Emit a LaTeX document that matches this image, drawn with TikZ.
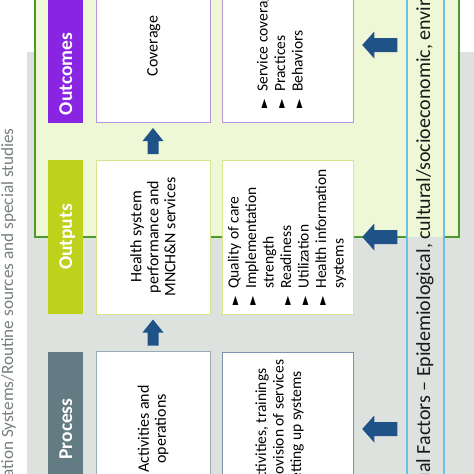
\documentclass[tikz,border=0pt]{standalone}
\usepackage{fontspec}
\setmainfont{Carlito}
\newfontfamily\symfont{DejaVu Sans}
\usetikzlibrary{calc}
\definecolor{lgreen}{HTML}{EFF8D6}
\definecolor{bggray}{HTML}{DDE2DF}
\definecolor{ggreen}{HTML}{4A9B2B}
\definecolor{bandblue}{HTML}{6EC1E4}
\definecolor{arrowblue}{HTML}{1F5286}
\definecolor{purp}{HTML}{8A24E3}
\definecolor{limec}{HTML}{BED21B}
\definecolor{slatec}{HTML}{637B82}
\definecolor{purpbd}{HTML}{B596D6}
\definecolor{limebd}{HTML}{D9E58C}
\definecolor{slatebd}{HTML}{9AABB3}
\definecolor{bluebd}{HTML}{7C93AE}
\definecolor{sidegray}{HTML}{777F80}
\newcommand\bul{{\symfont\fontsize{12}{12}\selectfont ►}}
\begin{document}
\begin{tikzpicture}[x=1pt,y=-1pt,
  box/.style={draw, line width=1pt, fill=white, inner sep=0pt, minimum width=114pt, minimum height=154pt},
  boxb/.style={draw, line width=1pt, fill=white, inner sep=0pt, minimum width=131pt, minimum height=154pt},
  header/.style={inner sep=0pt, minimum width=35pt, minimum height=154pt},
  hdrtext/.style={rotate=90, inner sep=0pt, text=white, font=\bfseries\fontsize{19.5}{20}\selectfont},
  rtext/.style={rotate=90, inner sep=0pt, align=center, font=\fontsize{16}{17}\selectfont},
  blist/.style={rotate=90, inner sep=0pt, anchor=west, font=\fontsize{15.5}{17.5}\selectfont},
  uparr/.pic={\fill[arrowblue] (0,-13) -- (10.5,0) -- (5.5,0) -- (5.5,13) -- (-5.5,13) -- (-5.5,0) -- (-10.5,0) -- cycle;},
  leftarr/.pic={\fill[arrowblue] (-17.5,0) -- (-5.5,-13.5) -- (-5.5,-7) -- (17.5,-7) -- (17.5,7) -- (-5.5,7) -- (-5.5,13.5) -- cycle;}
]
\useasboundingbox (0,0) rectangle (474,474);
\clip (0,0) rectangle (474,474);
\fill[white] (0,0) rectangle (474,474);
% gray background region
\fill[bggray] (27,52) rectangle (490,490);
% green region
\fill[lgreen] (35,-20) rectangle (459,237);
\draw[ggreen, line width=2.2pt] (407,237) -- (35,237) -- (35,-20);
\draw[ggreen, line width=2.2pt] (444,237) -- (459,237) -- (459,-20);
% context band
\node[draw=bandblue, line width=2pt, inner sep=0pt, minimum width=37pt, minimum height=560pt] (ctx) at (425.5,237) {};
\node[rotate=90, inner sep=0pt, anchor=west, text=black!90, font=\fontsize{20}{21}\selectfont] (ctxt) at (425,473)
  {\llap{Contextu}al Factors -- Epidemiological, cultural/socioeconomic, environmental};
% side text
\node[rotate=90, inner sep=0pt, anchor=base east, text=sidegray, font=\fontsize{17.2}{18}\selectfont] (side) at (13,128)
  {Information Systems/Routine sources and special studies};
% headers
\node[header, fill=purp] (hout) at (65.5,46) {};
\node[header, fill=limec] (hop) at (65.5,237) {};
\node[header, fill=slatec] (hpr) at (65.5,429) {};
\node[hdrtext, anchor=base] (tout) at (72,74) {Outcomes};
\node[hdrtext, anchor=base] (top) at (72,237) {Outputs};
\node[hdrtext, anchor=base] (tpr) at (72,429) {Process};
% first column boxes
\node[box, draw=purpbd] (cov) at (153,45) {};
\node[box, draw=limebd] (hs) at (153,237) {};
\node[box, draw=slatebd] (act) at (153,428) {};
\node[rtext, anchor=base] (tcov) at (157.5,46) {Coverage};
\node[rtext] (ths) at (153,237) {Health system\\performance and\\MNCH\&N services};
\node[rtext] (tact) at (153,429) {Activities and\\operations};
% second column boxes
\node[boxb, draw=purpbd] (svc) at (287.5,45) {};
\node[boxb, draw=limebd] (qual) at (287.5,237) {};
\node[boxb, draw=bluebd] (del) at (287.5,429) {};
\node[blist] (tsvc) at (281.5,109) {\begin{tabular}{@{}l@{\hspace{8pt}}l@{}}
  \bul & Service coverage\\ \bul & Practices\\ \bul & Behaviors\end{tabular}};
\node[blist] (tqual) at (287.5,306) {\begin{tabular}{@{}l@{\hspace{8pt}}l@{}}
  \bul & Quality of care\\ \bul & Implementation\\ & strength\\ \bul & Readiness\\
  \bul & Utilization\\ \bul & Health information\\ & systems\end{tabular}};
\node[blist] (tdel) at (280,505) {\begin{tabular}{@{}l@{\hspace{8pt}}l@{}}
  \bul & Activities, trainings\\ \bul & Provision of services\\ \bul & Setting up systems\end{tabular}};
% arrows
\pic at ($(cov.south)!0.5!(hs.north)$) {uparr};
\pic at ($(hs.south)!0.5!(act.north)$) {uparr};
\pic at ($(svc.east)!0.5!(ctx.west |- svc.east)$) {leftarr};
\pic at ($(qual.east)!0.5!(ctx.west |- qual.east)$) {leftarr};
\pic at ($(del.east)!0.5!(ctx.west |- del.east)$) {leftarr};
\end{tikzpicture}
\end{document}
